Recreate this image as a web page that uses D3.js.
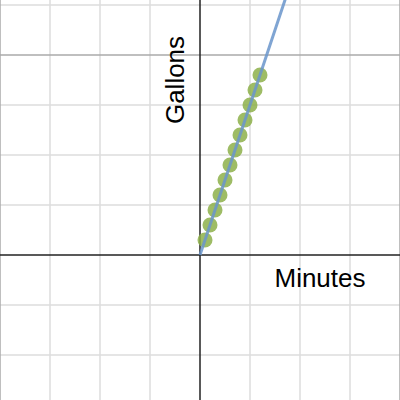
<!DOCTYPE html>
<html><head><script src="https://d3js.org/d3.v7.min.js"></script>
<style>body{margin:0}svg{display:block}</style></head>
<body><script>
const minutes=[0.1,0.2,0.3,0.4,0.5,0.6,0.7,0.8,0.9,1.0,1.1];
const gallons=[0.3,0.6,0.9,1.2,1.5,1.8,2.1,2.4,2.7,3.0,3.3];
const minutesAll=[0.1,0.2,0.3,0.4,0.5,0.6,0.7,0.8,0.9,1.0,1.1,1.2];
const gallonsAll=[0.3,0.6,0.9,1.2,1.5,1.8,2.1,2.4,2.7,3.0,3.3,3.6];
const lineX=[0,2];
const lineY=[0,6];
const xTicks=[-3,-2,-1,1,2,3];
const yTicks=[-2,-1,1,2,3,5];
const majorY=[4];
const majorX=[-4,4];
const W=400,H=400;
const x=d3.scaleLinear().domain([-4,4]).range([0,W]);
const y=d3.scaleLinear().domain([-2.9,5.1]).range([H,0]);
const svg=d3.select("body").append("svg").attr("width",W).attr("height",H);
svg.append("rect").attr("width",W).attr("height",H).attr("fill","#fff");
svg.selectAll(".gx").data(xTicks).join("line").attr("x1",d=>x(d)).attr("x2",d=>x(d)).attr("y1",0).attr("y2",H).attr("stroke","#ddd").attr("stroke-width",1.5);
svg.selectAll(".gy").data(yTicks).join("line").attr("y1",d=>y(d)).attr("y2",d=>y(d)).attr("x1",0).attr("x2",W).attr("stroke","#ddd").attr("stroke-width",1.5);
svg.selectAll(".my").data(majorY).join("line").attr("y1",d=>y(d)).attr("y2",d=>y(d)).attr("x1",0).attr("x2",W).attr("stroke","#aaa").attr("stroke-width",1.5);
svg.selectAll(".mx").data(majorX).join("line").attr("x1",d=>x(d)).attr("x2",d=>x(d)).attr("y1",0).attr("y2",H).attr("stroke","#aaa").attr("stroke-width",1.5);
svg.append("line").attr("x1",x(0)).attr("x2",x(0)).attr("y1",0).attr("y2",H).attr("stroke","#222").attr("stroke-width",1.5);
svg.append("line").attr("y1",y(0)).attr("y2",y(0)).attr("x1",0).attr("x2",W).attr("stroke","#222").attr("stroke-width",1.5);
svg.selectAll("circle").data(minutesAll).join("circle").attr("cx",d=>x(d)).attr("cy",(d,i)=>y(gallonsAll[i])).attr("r",7.5).attr("fill","#8db04a").attr("opacity",0.85);
svg.append("line").attr("x1",x(lineX[0])).attr("y1",y(lineY[0])).attr("x2",x(lineX[1])).attr("y2",y(lineY[1])).attr("stroke","#6b96cc").attr("stroke-width",3).attr("opacity",0.85);
svg.append("text").attr("x",320).attr("y",287).attr("text-anchor","middle").attr("font-family","Liberation Sans, Arial, sans-serif").attr("font-size",26).text("Minutes");
svg.append("text").attr("transform","translate(184,80) rotate(-90)").attr("text-anchor","middle").attr("font-family","Liberation Sans, Arial, sans-serif").attr("font-size",26).text("Gallons");
</script></body></html>
